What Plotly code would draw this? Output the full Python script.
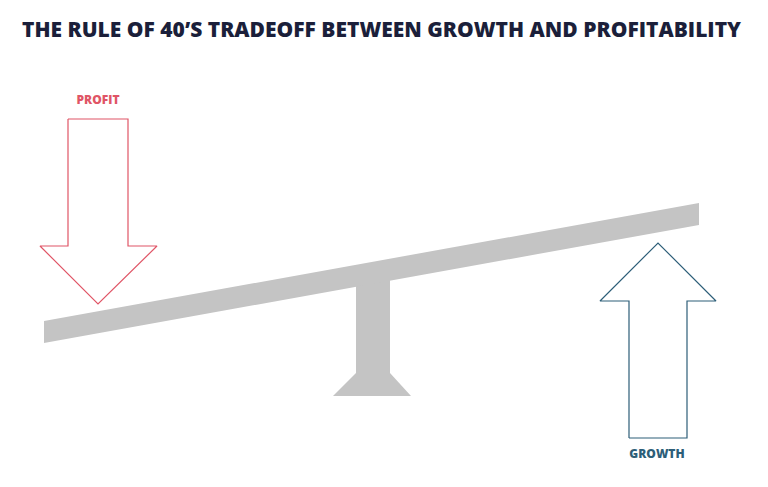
import plotly.graph_objects as go

# shapes in pixel space (x, y with y downward)
beam_x = [44, 699, 699, 44, 44]
beam_y = [320, 202, 224, 342, 320]
stand_x = [356, 390, 390, 411, 333, 356, 356]
stand_y = [275, 270, 372, 395, 395, 372, 275]
profit_x = [68, 128, 128, 157, 98, 40, 68, 68]
profit_y = [118, 118, 245, 245, 303, 245, 245, 118]
growth_x = [629, 687, 687, 716, 658, 600, 629, 629]
growth_y = [437, 437, 300, 300, 242, 300, 300, 437]
labels = ["PROFIT", "GROWTH"]
label_x = [98, 657]
label_y = [100, 454]
title = "THE RULE OF 40’S TRADEOFF BETWEEN GROWTH AND PROFITABILITY"

RED = "#e05566"
BLUE = "#2d5e78"
GREY = "#c4c4c4"

fig = go.Figure()
fig.add_trace(go.Scatter(x=stand_x, y=stand_y, fill="toself", fillcolor=GREY,
                         line=dict(width=0, color=GREY), mode="lines", hoverinfo="skip"))
fig.add_trace(go.Scatter(x=beam_x, y=beam_y, fill="toself", fillcolor=GREY,
                         line=dict(width=0, color=GREY), mode="lines", hoverinfo="skip"))
fig.add_trace(go.Scatter(x=profit_x, y=profit_y, fill="toself", fillcolor="white",
                         line=dict(width=1.2, color=RED), mode="lines", hoverinfo="skip"))
fig.add_trace(go.Scatter(x=growth_x, y=growth_y, fill="toself", fillcolor="white",
                         line=dict(width=1.2, color=BLUE), mode="lines", hoverinfo="skip"))
fig.add_trace(go.Scatter(x=label_x, y=label_y, mode="text", text=labels,
                         textfont=dict(family="Open Sans", size=12, color=[RED, BLUE], weight=800),
                         hoverinfo="skip"))

fig.update_layout(
    width=768, height=487, showlegend=False,
    margin=dict(l=0, r=0, t=0, b=0),
    paper_bgcolor="white", plot_bgcolor="white",
    xaxis=dict(range=[8, 776], visible=False, fixedrange=True),
    yaxis=dict(range=[494, 7], visible=False, fixedrange=True),
    annotations=[dict(x=20, y=28, xref="x", yref="y", xanchor="left", yanchor="middle",
                      text=title, showarrow=False,
                      font=dict(family="Open Sans", size=21, color="#1b1f3a", weight=800))],
)
fig.write_html("out.html")
